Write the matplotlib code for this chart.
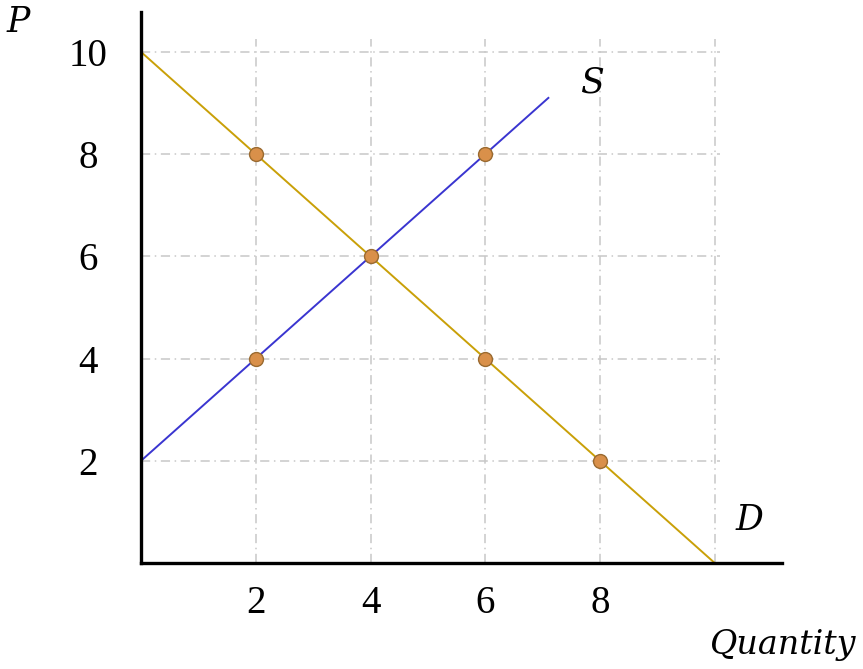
import matplotlib
matplotlib.use("Agg")
import matplotlib.pyplot as plt

# Data
supply_q = [0, 7.1]
supply_p = [2, 9.1]
demand_q = [0, 10]
demand_p = [10, 0]
points_q = [2, 6, 4, 2, 6, 8]
points_p = [8, 8, 6, 4, 4, 2]
x_ticks = [2, 4, 6, 8]
y_ticks = [2, 4, 6, 8, 10]
grid_x = [2, 4, 6, 8, 10]
grid_y = [2, 4, 6, 8, 10]

fig = plt.figure(figsize=(8.63, 6.69), dpi=100)
ax = fig.add_axes([0.1634, 0.1584, 0.7426, 0.8236])
ax.set_xlim(0, 11.17)
ax.set_ylim(0, 10.78)

grid_kw = dict(color="#c8c8c8", linestyle=(0, (6, 3, 1, 3)), linewidth=1.1, zorder=1)
for gx in grid_x:
    ax.plot([gx, gx], [0, 10.25], **grid_kw)
for gy in grid_y:
    ax.plot([0, 10.1], [gy, gy], **grid_kw)

ax.plot(supply_q, supply_p, color="#3a35d0", linewidth=1.4, zorder=2)
ax.plot(demand_q, demand_p, color="#c9a008", linewidth=1.4, zorder=2)
ax.plot(points_q, points_p, linestyle="none", marker="o", markersize=10,
        markerfacecolor="#d9904a", markeredgecolor="#9a6a30", markeredgewidth=1.0, zorder=3)

for s in ["top", "right"]:
    ax.spines[s].set_visible(False)
for s in ["left", "bottom"]:
    ax.spines[s].set_linewidth(2.4)
    ax.spines[s].set_color("black")

ax.set_xticks(x_ticks)
ax.set_yticks(y_ticks)
ax.set_xticklabels([str(v) for v in x_ticks], fontsize=28, family="Liberation Serif")
ax.set_yticklabels([str(v) for v in y_ticks], fontsize=28, family="Liberation Serif", ha="center")
ax.tick_params(axis="both", length=0)
ax.tick_params(axis="x", pad=16)
ax.tick_params(axis="y", pad=38)

lab_kw = dict(fontsize=25, family="DejaVu Serif", style="italic")
ax.text(7.87, 9.41, "S", ha="center", va="center", **lab_kw)
ax.text(10.6, 0.84, "D", ha="center", va="center", **lab_kw)
fig.text(18 / 863, 1 - 22 / 669, "P", ha="center", va="center", **lab_kw)
fig.text(783 / 863, 1 - 645 / 669, "Quantity", ha="center", va="center",
         fontsize=24, family="DejaVu Serif", style="italic")

fig.savefig("out.png", dpi=100)
